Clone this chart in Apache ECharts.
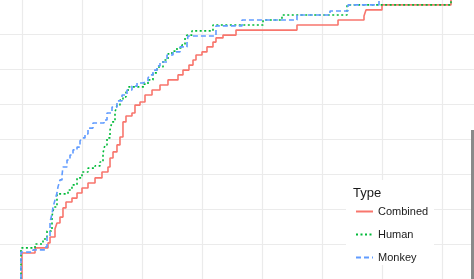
<!DOCTYPE html>
<html>
<head>
<meta charset="utf-8">
<script src="https://cdn.jsdelivr.net/npm/echarts@6/dist/echarts.min.js"></script>
<style>
html,body{margin:0;padding:0;background:#fff;overflow:hidden;width:474px;height:279px;}
#chart{position:absolute;left:-38px;top:-36px;width:540px;height:350px;}
</style>
</head>
<body>
<div id="chart"></div>
<script>
// Series names (legend)
const seriesNames = ["Combined", "Human", "Monkey"];
const legendTitle = "Type";

// Step (ECDF) data: [x, cumulative fraction]
const combined = [[0,0],[0,0.093],[2.17,0.111],[4.33,0.129],[4.67,0.150],[5.5,0.179],[5.83,0.200],[6.33,0.221],[6.83,0.254],[7.33,0.275],[8.33,0.289],[9.17,0.307],[10,0.325],[11,0.343],[12.17,0.361],[13.33,0.382],[14.33,0.400],[14.67,0.432],[15.17,0.454],[15.83,0.479],[16.33,0.507],[16.83,0.561],[17.33,0.582],[18.33,0.593],[18.83,0.621],[19.67,0.632],[20.5,0.657],[21.67,0.675],[23,0.693],[24.33,0.711],[26,0.729],[26.83,0.746],[27.83,0.764],[28.5,0.782],[29,0.800],[30,0.811],[30.83,0.829],[31.83,0.846],[32.33,0.861],[33.5,0.871],[35.67,0.889],[45.83,0.907],[52.67,0.925],[57,0.939],[57.33,0.961],[60,0.979],[71.5,1.0],[80,1.0]];
const human = [[-0.17,0],[-0.17,0.111],[2.17,0.125],[3.5,0.143],[4.17,0.171],[5.0,0.225],[5.33,0.257],[5.83,0.304],[7.67,0.318],[8.33,0.336],[9.17,0.361],[10.0,0.382],[11.0,0.396],[12.17,0.404],[13.0,0.418],[13.5,0.450],[13.83,0.479],[14.17,0.504],[14.67,0.532],[15.0,0.561],[15.5,0.596],[15.83,0.621],[16.33,0.639],[16.83,0.650],[17.33,0.668],[17.67,0.686],[20.33,0.696],[21.0,0.711],[21.83,0.736],[22.5,0.757],[23.5,0.782],[24.33,0.804],[25.0,0.814],[25.83,0.825],[26.67,0.836],[27.17,0.861],[27.5,0.871],[28.33,0.886],[31.83,0.907],[40.17,0.925],[43.33,0.943],[54.17,0.979],[71.5,1.0],[80,1.0]];
const monkey = [[-0.17,0],[-0.17,0.096],[1.83,0.104],[3.83,0.114],[4.17,0.150],[4.67,0.204],[5.0,0.232],[5.17,0.257],[5.5,0.282],[5.83,0.307],[6.0,0.329],[6.33,0.354],[6.67,0.371],[6.83,0.400],[7.5,0.425],[8.0,0.443],[8.5,0.461],[9.17,0.471],[9.67,0.493],[10.0,0.504],[10.5,0.518],[11.0,0.539],[11.83,0.557],[13.67,0.568],[14.17,0.593],[15.0,0.614],[15.83,0.636],[16.67,0.657],[17.5,0.675],[18.33,0.689],[19.17,0.700],[20.17,0.707],[21.0,0.718],[21.33,0.729],[21.83,0.746],[22.5,0.761],[23.0,0.775],[24.17,0.800],[25.17,0.811],[26.33,0.829],[27.5,0.843],[27.67,0.868],[32.33,0.904],[36.67,0.925],[45.83,0.943],[51.33,0.957],[54.33,0.979],[59.5,1.0],[80,1.0]];

const colors = ["#F8766D", "#00BA38", "#619CFF"];

const chart = echarts.init(document.getElementById('chart'), null, {renderer: 'canvas'});
const lineTypes = ['solid', [2, 2.5], [5, 3]];
const seriesData = [combined, human, monkey];

chart.setOption({
  animation: false,
  backgroundColor: '#ffffff',
  grid: {left: 0, right: 0, top: 0, bottom: 0, containLabel: false},
  xAxis: {
    type: 'value', min: -10, max: 80, interval: 10,
    axisLine: {show: false}, axisTick: {show: false}, axisLabel: {show: false},
    splitLine: {show: true, lineStyle: {color: '#ebebeb', width: 1.2}}
  },
  yAxis: {
    type: 'value', min: -0.125, max: 1.125, interval: 0.125,
    axisLine: {show: false}, axisTick: {show: false}, axisLabel: {show: false},
    splitLine: {show: true, lineStyle: {color: '#ebebeb', width: 1.2}}
  },
  legend: {
    orient: 'vertical', left: 393, top: 242, padding: 0,
    itemWidth: 17, itemHeight: 10, itemGap: 12,
    itemStyle: {opacity: 0, borderWidth: 0},
    textStyle: {fontFamily: 'Liberation Sans, Arial, sans-serif', fontSize: 11, color: '#1a1a1a'},
    data: seriesNames.slice()
  },
  graphic: [
    {type: 'rect', z: 1, shape: {x: 384, y: 216, width: 88, height: 85}, style: {fill: '#ffffff'}},
    {type: 'text', z: 2, left: 391, top: 223, style: {text: legendTitle, fontFamily: 'Liberation Sans, Arial, sans-serif', fontSize: 13, fill: '#1a1a1a'}},
    {type: 'rect', z: 3, shape: {x: 509, y: 166, width: 3, height: 149}, style: {fill: '#8a8a8a'}}
  ],
  series: seriesNames.map((n, i) => ({
    name: n, type: 'line', step: 'end', data: seriesData[i],
    symbol: 'none', showSymbol: false, clip: false,
    lineStyle: {color: colors[i], width: 1.6, type: lineTypes[i]},
    itemStyle: {color: colors[i]},
    z: 3 + i
  }))
});
</script>
</body>
</html>
